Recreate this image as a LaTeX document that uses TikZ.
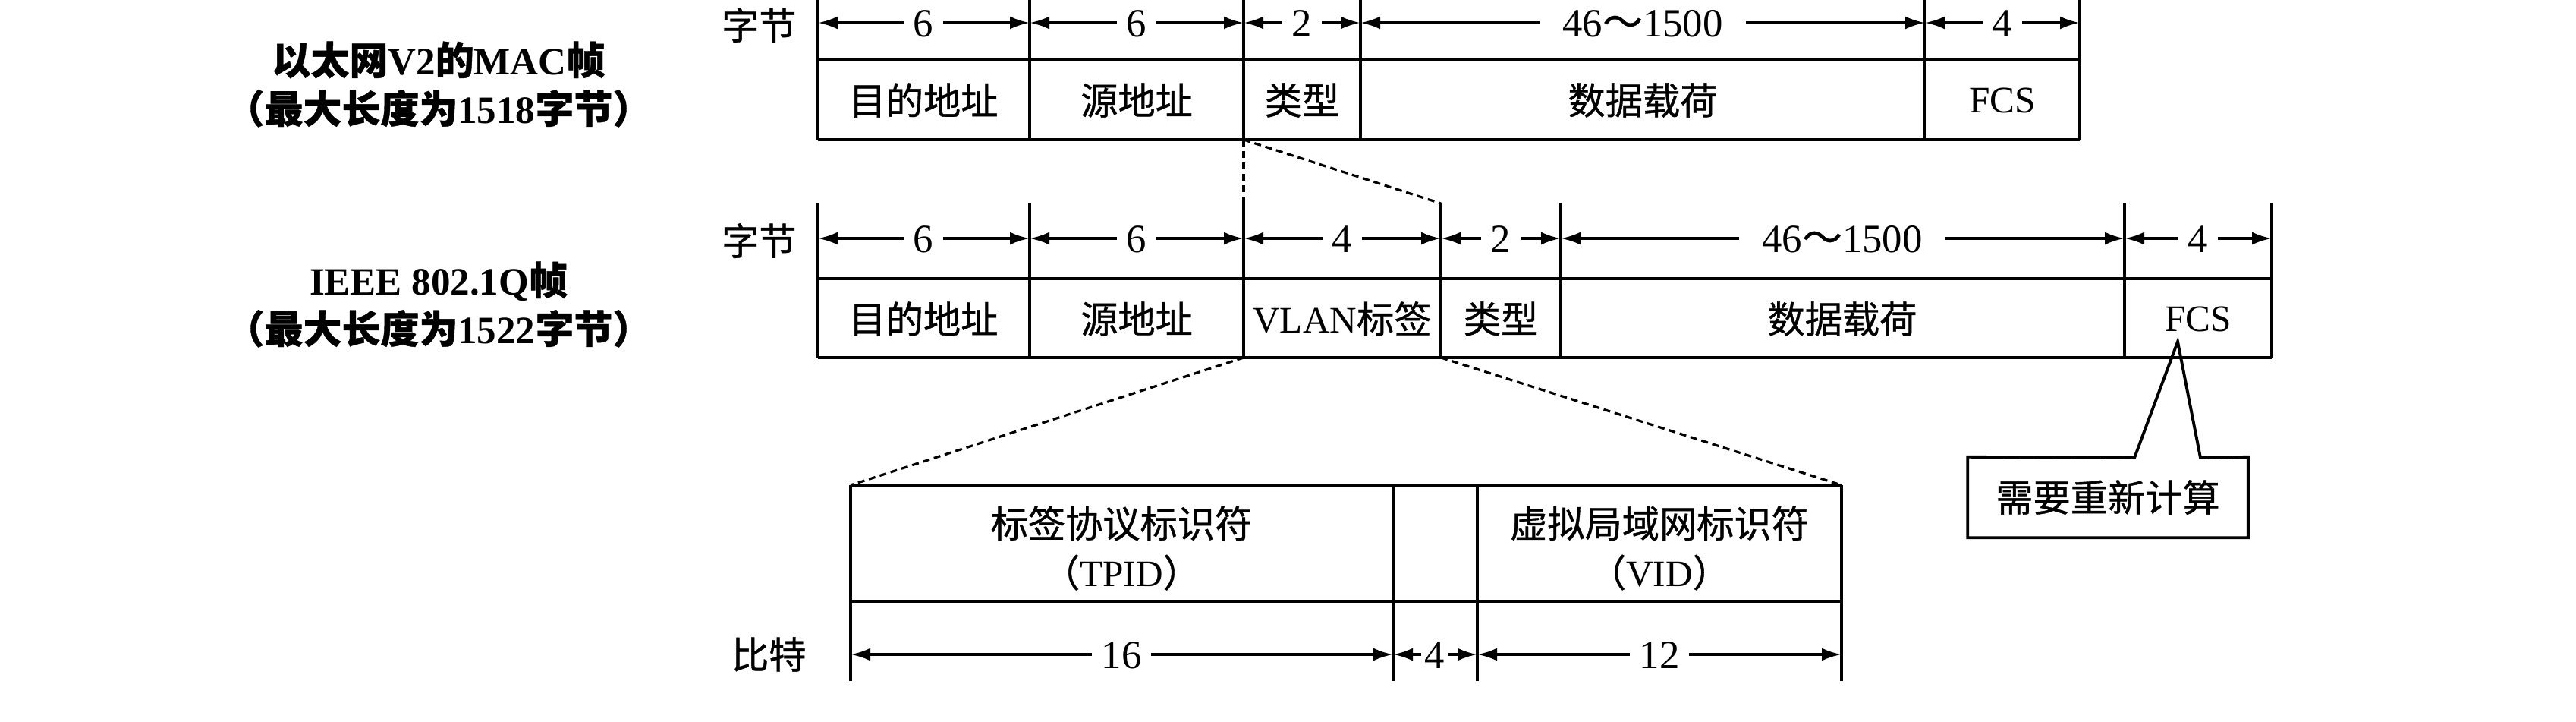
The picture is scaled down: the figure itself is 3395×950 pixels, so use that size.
\documentclass[tikz,border=0pt]{standalone}
\usepackage{fontspec}
\setmainfont{Liberation Serif}
\newfontfamily\cjk{Noto Sans CJK SC}[FakeBold=0.8]
\usetikzlibrary{arrows.meta}

\begin{document}
\begin{tikzpicture}[x=0.01cm, y=-0.01cm,
  every node/.style={font=\fontsize{14}{18}\selectfont},
  frm/.style={line width=1.1pt},
  dim/.style={line width=1.1pt, -{Latex[length=0.26cm, width=0.17cm]}},
  zoomln/.style={line width=0.9pt, dash pattern=on 0.09cm off 0.06cm},
  len/.style={inner sep=0.12cm, text height=0.36cm, text depth=0pt, font=\fontsize{15}{18}\selectfont},
  title/.style={align=center, font=\fontsize{14.5}{18.2}\selectfont\bfseries}]
\useasboundingbox (0,0) rectangle (3395,950);

% Ethernet V2
\node[title] (tv2) at (578,111) {{\cjk 以太网}V2{\cjk 的}MAC{\cjk 帧}\\{\cjk （最大长度为}1518{\cjk 字节）}};
\node[anchor=east] (ua) at (1062,33) {\cjk 字节};
\foreach \x [count=\i from 0] in {1078,1357,1639,1793,2537,2741}{
  \coordinate (at\i) at (\x,0);
  \coordinate (am\i) at (\x,30);
  \coordinate (ah\i) at (\x,79);
  \coordinate (ab\i) at (\x,184);
  \draw[frm] (at\i) -- (ab\i);
}
\draw[frm] (ah0) -- (ah5);
\draw[frm] (ab0) -- (ab5);
\node[len] (ad0) at (1217,30) {6};
\node[len] (ad1) at (1498,30) {6};
\node[len] (ad2) at (1716,30) {2};
\node[len, inner sep=0.3cm] (ad3) at (2165,30) {46{\cjk ～}1500};
\node[len] (ad4) at (2639,30) {4};
\foreach \i [evaluate=\i as \j using int(\i+1)] in {0,...,4}{
  \draw[dim] (ad\i) -- (am\i);
  \draw[dim] (ad\i) -- (am\j);
}
\node (ac0) at (1217,132) {\cjk 目的地址};
\node (ac1) at (1498,132) {\cjk 源地址};
\node (ac2) at (1716,132) {\cjk 类型};
\node (ac3) at (2165,132) {\cjk 数据载荷};
\node (ac4) at (2639,132) {FCS};

% 802.1Q
\node[title] (tq) at (578,401) {IEEE 802.1Q{\cjk 帧}\\{\cjk （最大长度为}1522{\cjk 字节）}};
\node[anchor=east] (ub) at (1062,317) {\cjk 字节};
\foreach \x [count=\i from 0] in {1078,1357,1639,1899,2057,2800,2994}{
  \coordinate (bt\i) at (\x,268);
  \coordinate (bm\i) at (\x,314);
  \coordinate (bh\i) at (\x,367);
  \coordinate (bb\i) at (\x,471);
  \draw[frm] (bt\i) -- (bb\i);
}
\draw[frm] (bh0) -- (bh6);
\draw[frm] (bb0) -- (bb6);
\node[len] (bd0) at (1217,314) {6};
\node[len] (bd1) at (1498,314) {6};
\node[len] (bd2) at (1769,314) {4};
\node[len] (bd3) at (1978,314) {2};
\node[len, inner sep=0.3cm] (bd4) at (2428,314) {46{\cjk ～}1500};
\node[len] (bd5) at (2897,314) {4};
\foreach \i [evaluate=\i as \j using int(\i+1)] in {0,...,5}{
  \draw[dim] (bd\i) -- (bm\i);
  \draw[dim] (bd\i) -- (bm\j);
}
\node (bc0) at (1217,420) {\cjk 目的地址};
\node (bc1) at (1498,420) {\cjk 源地址};
\node (bc2) at (1769,420) {VLAN{\cjk 标签}};
\node (bc3) at (1978,420) {\cjk 类型};
\node (bc4) at (2428,420) {\cjk 数据载荷};
\node (bc5) at (2897,420) {FCS};

% VLAN tag
\node[anchor=east] (uc) at (1075,862) {\cjk 比特};
\foreach \x [count=\i from 0] in {1121,1836,1947,2427}{
  \coordinate (ct\i) at (\x,639);
  \coordinate (ch\i) at (\x,792);
  \coordinate (cm\i) at (\x,862);
  \coordinate (cb\i) at (\x,897);
  \draw[frm] (ct\i) -- (cb\i);
}
\draw[frm] (ct0) -- (ct3);
\draw[frm] (ch0) -- (ch3);
\node[len] (cd0) at (1478,862) {16};
\node[len, inner sep=0.04cm] (cd1) at (1891,862) {4};
\node[len] (cd2) at (2187,862) {12};
\foreach \i [evaluate=\i as \j using int(\i+1)] in {0,...,2}{
  \draw[dim] (cd\i) -- (cm\i);
  \draw[dim] (cd\i) -- (cm\j);
}
\node[align=center, font=\fontsize{14}{18.4}\selectfont] (cc0) at (1478,722) {{\cjk 标签协议标识符}\\{\cjk （}TPID{\cjk ）}};
\node[align=center, font=\fontsize{14}{18.4}\selectfont] (cc2) at (2187,722) {{\cjk 虚拟局域网标识符}\\{\cjk （}VID{\cjk ）}};

% dashed zoom lines
\draw[zoomln] (ab2) -- (bt2);
\draw[zoomln] (ab2) -- (bt3);
\draw[zoomln] (bb2) -- (ct0);
\draw[zoomln] (bb3) -- (ct3);

% callout
\node[minimum width=3.68cm, minimum height=1.05cm] (note) at (2778,655) {\cjk 需要重新计算};
\coordinate (tip) at (2870,450);
\coordinate (n1) at (2813,603);
\coordinate (n2) at (2900,603);
\draw[frm] (n1) -- (tip) -- (n2) -- (note.north east) -- (note.south east) -- (note.south west) -- (note.north west) -- cycle;
\end{tikzpicture}
\end{document}
